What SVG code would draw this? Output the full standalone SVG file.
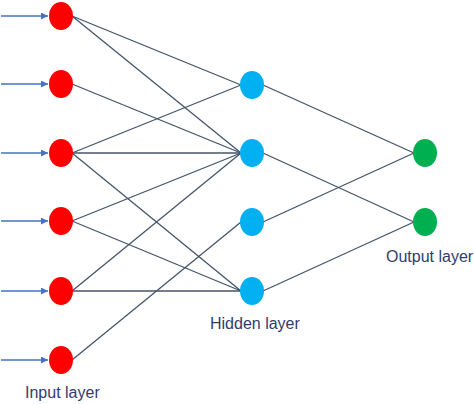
<svg xmlns="http://www.w3.org/2000/svg" width="474" height="404" viewBox="0 0 474 404">
<defs>
<marker id="ah" viewBox="0 0 10 10" refX="10" refY="5" markerWidth="8" markerHeight="7" markerUnits="userSpaceOnUse" orient="auto">
<path d="M0,0 L10,5 L0,10 z" fill="#4472C4"/>
</marker>
</defs>
<style>
.in{fill:#FF0000}
.hid{fill:#00B0F0}
.out{fill:#00B050}
.e{stroke:#44546A;stroke-width:1.3;fill:none}
.arr{stroke:#4472C4;stroke-width:1.3;fill:none}
.lbl{font-family:"Liberation Sans",Arial,sans-serif;font-size:16px;fill:#2F3C6E}
</style>
<rect width="474" height="404" fill="#FFFFFF"/>
<g id="connectors">
<line class="arr" x1="1" y1="16" x2="48" y2="16" marker-end="url(#ah)"/>
<line class="arr" x1="1" y1="84" x2="48" y2="84" marker-end="url(#ah)"/>
<line class="arr" x1="1" y1="153" x2="48" y2="153" marker-end="url(#ah)"/>
<line class="arr" x1="1" y1="221" x2="48" y2="221" marker-end="url(#ah)"/>
<line class="arr" x1="1" y1="291" x2="48" y2="291" marker-end="url(#ah)"/>
<line class="arr" x1="1" y1="360" x2="48" y2="360" marker-end="url(#ah)"/>
<line class="e" x1="72" y1="16" x2="241" y2="85"/>
<line class="e" x1="72" y1="16" x2="241" y2="153"/>
<line class="e" x1="72" y1="84" x2="241" y2="153"/>
<line class="e" x1="72" y1="153" x2="241" y2="85"/>
<line class="e" x1="72" y1="153" x2="241" y2="153"/>
<line class="e" x1="72" y1="153" x2="241" y2="291"/>
<line class="e" x1="72" y1="221" x2="241" y2="153"/>
<line class="e" x1="72" y1="221" x2="241" y2="291"/>
<line class="e" x1="72" y1="291" x2="241" y2="153"/>
<line class="e" x1="72" y1="291" x2="241" y2="291"/>
<line class="e" x1="72" y1="360" x2="241" y2="222"/>
<line class="e" x1="263" y1="85" x2="414" y2="153"/>
<line class="e" x1="263" y1="153" x2="414" y2="222"/>
<line class="e" x1="263" y1="222" x2="414" y2="153"/>
<line class="e" x1="263" y1="291" x2="414" y2="222"/>
</g>
<g id="input1"><ellipse class="in" cx="61" cy="16" rx="12" ry="14"/></g>
<g id="input2"><ellipse class="in" cx="61" cy="84" rx="12" ry="14"/></g>
<g id="input3"><ellipse class="in" cx="61" cy="153" rx="12" ry="14"/></g>
<g id="input4"><ellipse class="in" cx="61" cy="221" rx="12" ry="14"/></g>
<g id="input5"><ellipse class="in" cx="61" cy="291" rx="12" ry="14"/></g>
<g id="input6"><ellipse class="in" cx="61" cy="360" rx="12" ry="14"/></g>
<g id="hidden1"><ellipse class="hid" cx="252" cy="85" rx="12" ry="14"/></g>
<g id="hidden2"><ellipse class="hid" cx="252" cy="153" rx="12" ry="14"/></g>
<g id="hidden3"><ellipse class="hid" cx="252" cy="222" rx="12" ry="14"/></g>
<g id="hidden4"><ellipse class="hid" cx="252" cy="291" rx="12" ry="14"/></g>
<g id="output1"><ellipse class="out" cx="425" cy="153" rx="12" ry="14"/></g>
<g id="output2"><ellipse class="out" cx="425" cy="222" rx="12" ry="14"/></g>
<g id="labels">
<text class="lbl" x="25" y="398">Input layer</text>
<text class="lbl" x="210" y="329">Hidden layer</text>
<text class="lbl" x="386" y="262">Output layer</text>
</g>
</svg>
